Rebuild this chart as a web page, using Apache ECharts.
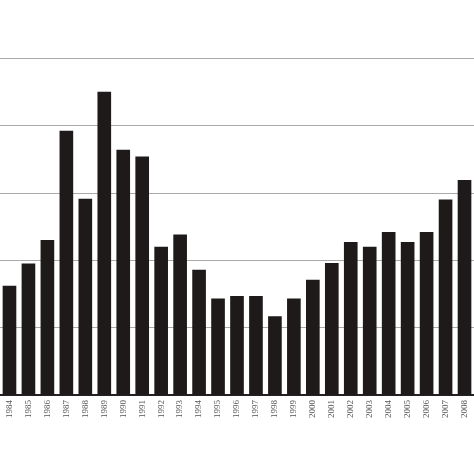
<!DOCTYPE html>
<html>
<head>
<meta charset="utf-8"/>
<script src="https://cdn.jsdelivr.net/npm/echarts@6/dist/echarts.min.js"></script>
<style>html,body{margin:0;padding:0;background:#fff}</style>
</head>
<body>
<div id="tu1" style="width:474px;height:474px;"></div>
<script type="text/javascript">
var years = ['1984','1985','1986','1987','1988','1989','1990','1991','1992','1993','1994','1995','1996','1997','1998','1999','2000','2001','2002','2003','2004','2005','2006','2007','2008'];
var values = [1.62,1.95,2.30,3.92,2.91,4.50,3.64,3.54,2.20,2.38,1.86,1.43,1.47,1.47,1.17,1.43,1.71,1.96,2.27,2.20,2.42,2.27,2.42,2.90,3.19];

var myChart1 = echarts.init(document.getElementById('tu1'));
var option1 = {
	animation: false,
	grid: {left: -3, width: 487, top: 58, bottom: 79, containLabel: false},
	xAxis: {
		type: 'category', data: years,
		axisLine: {lineStyle: {color: '#222', width: 2}},
		axisTick: {show: false},
		axisLabel: {rotate: 90, interval: 0, margin: 5, color: '#555', fontSize: 9, fontFamily: 'Liberation Serif'}
	},
	yAxis: {
		type: 'value', min: 0, max: 5, interval: 1,
		axisLine: {show: false}, axisTick: {show: false}, axisLabel: {show: false},
		splitLine: {lineStyle: {color: '#aaa', width: 1}}
	},
	series: [{type: 'bar', data: values, barCategoryGap: '28%', itemStyle: {color: '#1e1a1a'}}]
};
myChart1.setOption(option1);
</script>
</body>
</html>
